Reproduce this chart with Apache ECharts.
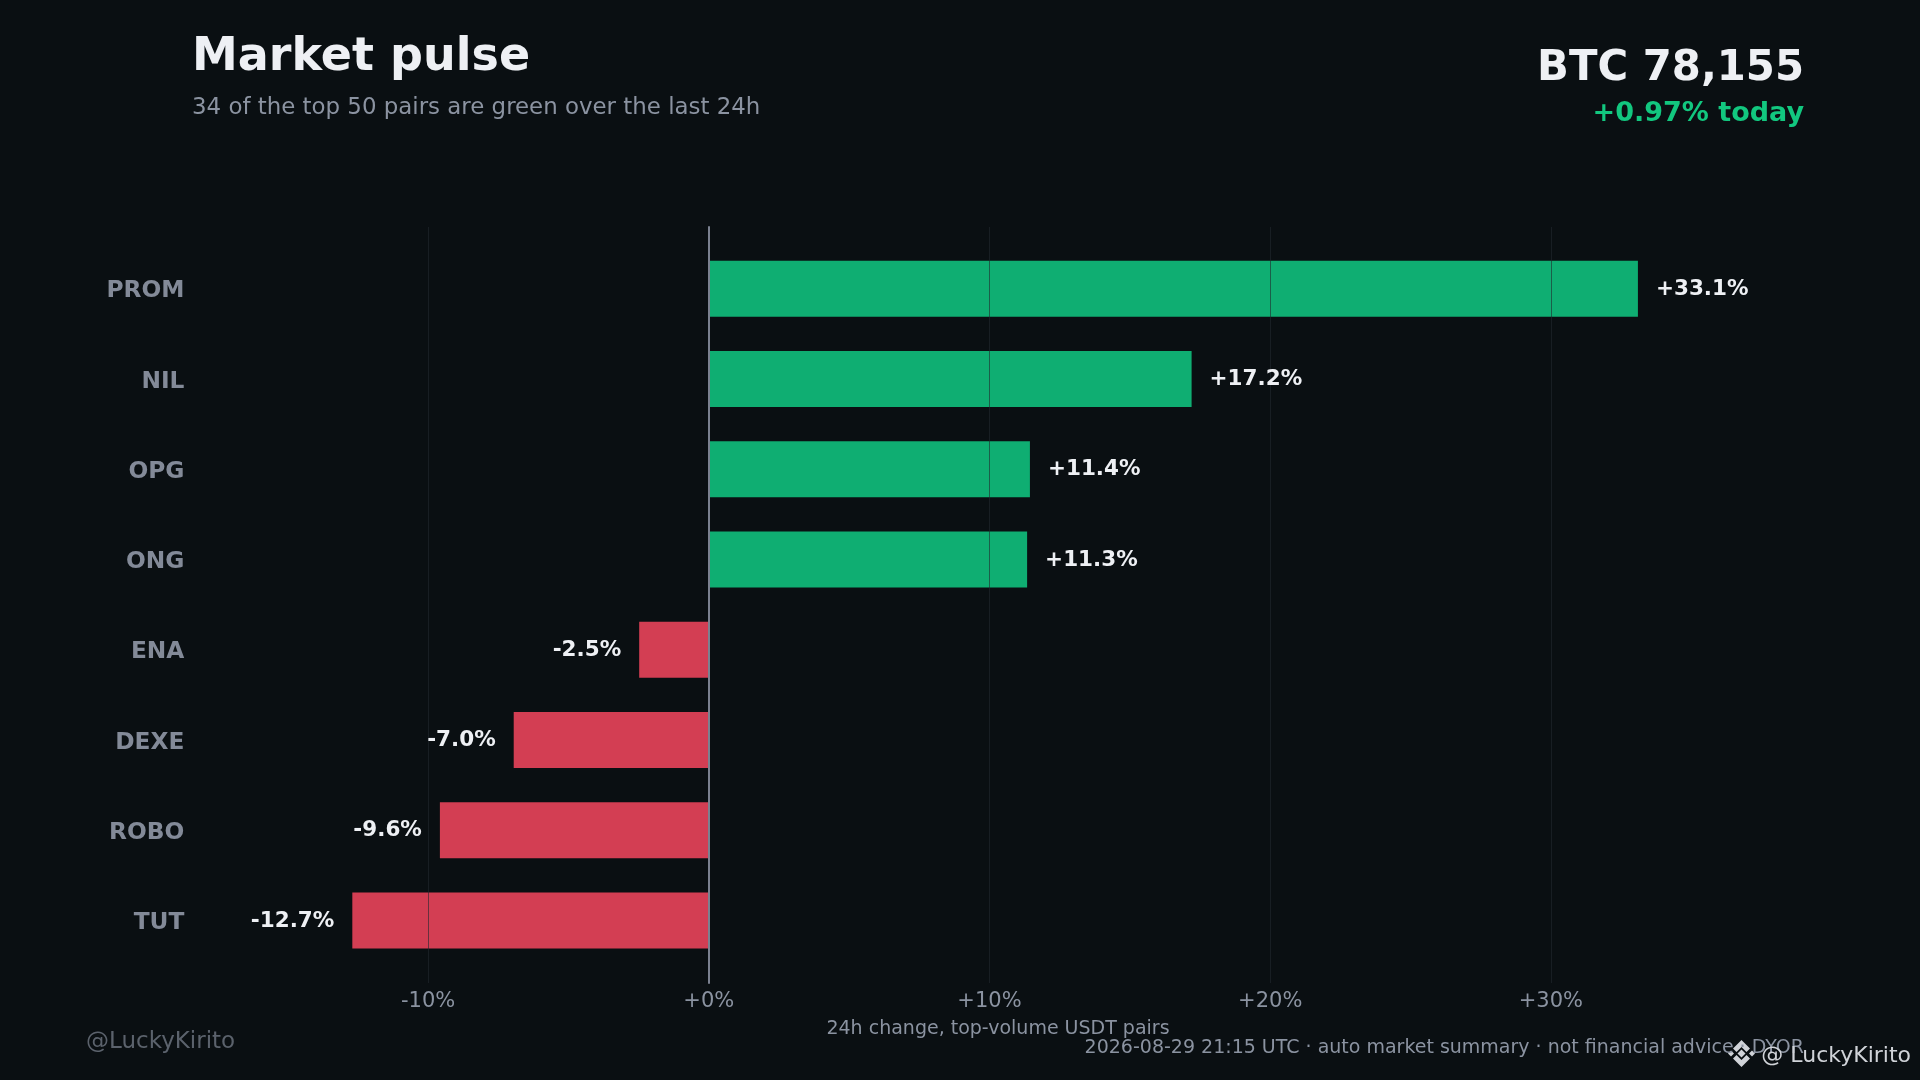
<!DOCTYPE html>
<html><head><meta charset="utf-8">
<style>html,body{margin:0;padding:0;background:#0a0f12}#c{width:1920px;height:1080px}</style>
<script src="https://cdn.jsdelivr.net/npm/echarts@6/dist/echarts.min.js"></script>
</head><body><div id="c"></div>
<script>
const categories = ['PROM','NIL','OPG','ONG','ENA','DEXE','ROBO','TUT'];
const changes = [33.1,17.2,11.44,11.34,-2.48,-6.95,-9.58,-12.7];
const GREEN='#0fae72', RED='#d33e53';
const FONT='"DejaVu Sans"';
const fmt = v => (v>=0?'+':'')+v+'%';
const fmt1 = v => (v>=0?'+':'')+v.toFixed(1)+'%';
const gridLeft=147.4, gridWidth=1684.2;
const txt=(text,o)=>Object.assign({text,textStyle:Object.assign({fontFamily:FONT,fontWeight:'normal'},o.s),padding:0},o.p);
const logoPart=(points)=>({type:'polygon',shape:{points},style:{fill:'#d0d3d8'}});
const chart=echarts.init(document.getElementById('c'),null,{renderer:'canvas'});
chart.setOption({
  animation:false,
  backgroundColor:'#0a0f12',
  title:[
    txt('Market pulse',{p:{left:192,top:35},s:{fontSize:46,fontWeight:'bold',color:'#eef0f4'}}),
    txt('34 of the top 50 pairs are green over the last 24h',{p:{left:192,top:97},s:{fontSize:22.9,color:'#8b93a1'}}),
    txt('BTC 78,155',{p:{right:116,top:48},s:{fontSize:41.8,fontWeight:'bold',color:'#eef0f4'}}),
    txt('+0.97% today',{p:{right:116,top:100},s:{fontSize:27,fontWeight:'bold',color:'#12c77f'}}),
    txt('@LuckyKirito',{p:{left:86,top:1031},s:{fontSize:23,color:'#5b626c'}}),
    txt('2026-08-29 21:15 UTC · auto market summary · not financial advice · DYOR',{p:{right:116,top:1039},s:{fontSize:19,color:'#8b93a1'}}),
    txt('@ LuckyKirito',{p:{right:9,top:1045},s:{fontSize:22,color:'#d0d3d8'}})
  ],
  grid:[
    {left:gridLeft,width:gridWidth,top:227,height:756,z:3},
    {left:gridLeft,width:gridWidth,top:243.7,height:722}
  ],
  xAxis:[
    {gridIndex:0,type:'value',min:-20,max:40,interval:10,z:3,
     axisLine:{show:false},axisTick:{show:false},
     splitLine:{show:true,showMinLine:false,showMaxLine:false,lineStyle:{color:'rgba(34,40,46,0.6)',width:1}},
     axisLabel:{showMinLabel:false,showMaxLabel:false,margin:8,color:'#8b93a1',fontFamily:FONT,fontSize:21,formatter:fmt},
     name:'24h change, top-volume USDT pairs',nameLocation:'middle',nameGap:37,
     nameTextStyle:{color:'#8b93a1',fontFamily:FONT,fontSize:19,padding:[0,0,0,17]}},
    {gridIndex:1,type:'value',min:-20,max:40,interval:10,show:false}
  ],
  yAxis:[
    {gridIndex:0,type:'value',min:0,max:1,z:3,show:true,
     axisLine:{show:true,onZero:true,lineStyle:{color:'#7b8190',width:2}},
     axisTick:{show:false},axisLabel:{show:false},splitLine:{show:false}},
    {gridIndex:1,type:'category',inverse:true,data:categories,
     axisLine:{show:false},axisTick:{show:false},splitLine:{show:false},
     axisLabel:{margin:-37,formatter:'{a|{value}}',
       rich:{a:{padding:[5,0,0,0],color:'#838a98',fontFamily:FONT,fontWeight:'bold',fontSize:23.3}}}}
  ],
  series:[{
    type:'bar',xAxisIndex:1,yAxisIndex:1,barWidth:56,barGap:'-100%',z:2,silent:true,
    data:changes.map(v=>({value:v,itemStyle:{color:v>=0?GREEN:RED}}))
  },{
    type:'bar',xAxisIndex:1,yAxisIndex:1,barWidth:56,barGap:'-100%',z:4,silent:true,
    itemStyle:{color:'rgba(0,0,0,0)'},
    data:changes.map(v=>({value:v,label:{position:v>=0?'right':'left'}})),
    label:{show:true,distance:18,offset:[0,0.5],color:'#eef0f4',fontFamily:FONT,fontWeight:'bold',fontSize:21.5,
      formatter:p=>fmt1(p.value)}
  }],
  graphic:[{type:'group',x:1728,y:1040,z:10,children:[
    logoPart([[13.5,0],[22,8.5],[18.5,12],[13.5,7],[8.5,12],[5,8.5]]),
    logoPart([[13.5,27],[22,18.5],[18.5,15],[13.5,20],[8.5,15],[5,18.5]]),
    logoPart([[3,10.5],[6,13.5],[3,16.5],[0,13.5]]),
    logoPart([[24,10.5],[27,13.5],[24,16.5],[21,13.5]]),
    logoPart([[13.5,9.5],[17.5,13.5],[13.5,17.5],[9.5,13.5]])
  ]}]
});
</script></body></html>
